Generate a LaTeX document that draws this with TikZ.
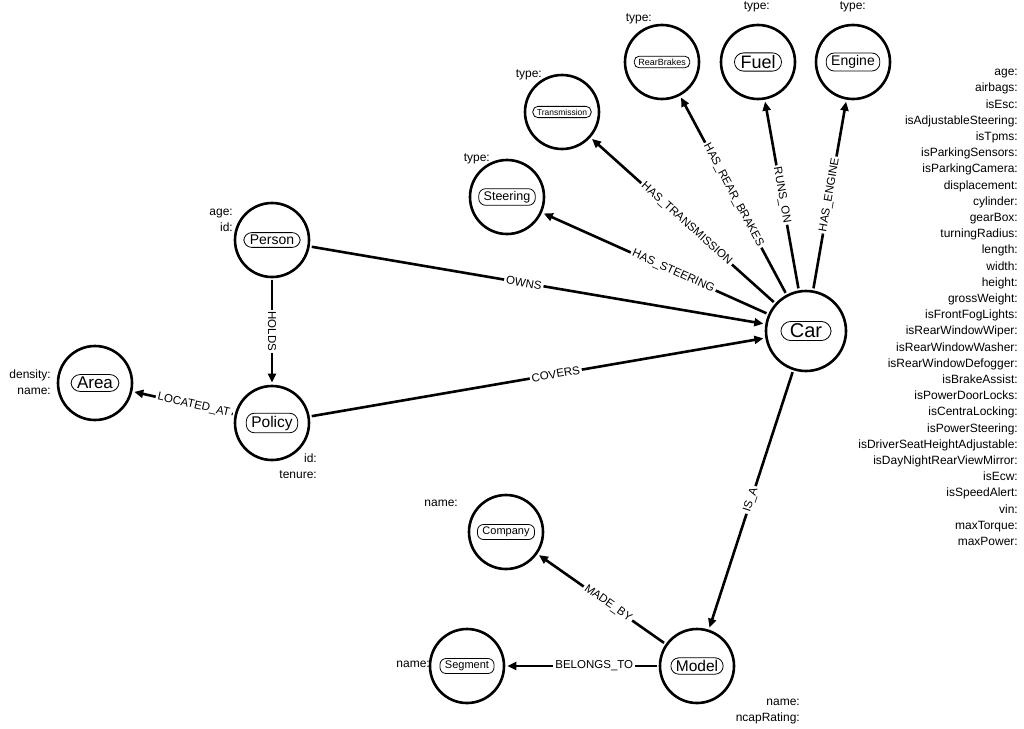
\documentclass[tikz,border=0pt]{standalone}
\usepackage{fontspec}
\setmainfont{Liberation Sans}
\usetikzlibrary{arrows.meta}
\begin{document}
\begin{tikzpicture}[x=1pt,y=-1pt,
  circ/.style={circle,draw,line width=2.6pt,minimum size=74pt,inner sep=0pt},
  bigcirc/.style={circ,minimum size=80pt},
  lab/.style={draw,rounded corners=5pt,line width=0.8pt,inner ysep=2.5pt,inner xsep=6pt},
  prop/.style={align=right,anchor=north east,font=\fontsize{12}{15.7}\selectfont,inner sep=0pt},
  rel/.style={line width=2.6pt,-{Triangle[length=9pt,width=8pt]},shorten >=2pt,shorten <=2pt},
  el/.style={sloped,fill=white,inner sep=2pt,font=\fontsize{11.5}{13}\selectfont}]
\useasboundingbox (0,0) rectangle (1024,728);
\node[bigcirc] (car) at (806,331) {};
\node[circ] (fuel) at (758,62) {};
\node[circ] (engine) at (853,62) {};
\node[circ] (rear) at (662,62) {};
\node[circ] (trans) at (562,112) {};
\node[circ] (steer) at (507,197) {};
\node[circ] (person) at (272,240) {};
\node[circ] (area) at (95,383) {};
\node[circ] (policy) at (272,423) {};
\node[circ] (company) at (506,532) {};
\node[circ] (model) at (697,666) {};
\node[circ] (segment) at (467,666) {};
\node[lab,font=\fontsize{20}{22}\selectfont,inner xsep=9pt,rounded corners=10pt] (carl) at (car) {Car};
\node[lab,font=\fontsize{18}{20}\selectfont,rounded corners=9pt] (fuell) at (fuel) {Fuel};
\node[lab,font=\fontsize{14}{16}\selectfont,rounded corners=8pt,inner xsep=5pt] (enginel) at (engine) {Engine};
\node[lab,font=\fontsize{9}{10}\selectfont,inner xsep=4pt] (rearl) at (rear) {RearBrakes};
\node[lab,font=\fontsize{8.5}{10}\selectfont,inner xsep=4pt] (transl) at (trans) {Transmission};
\node[lab,font=\fontsize{12.5}{14}\selectfont,rounded corners=7pt,inner xsep=5pt] (steerl) at (steer) {Steering};
\node[lab,font=\fontsize{14}{16}\selectfont,rounded corners=8pt] (personl) at (person) {Person};
\node[lab,font=\fontsize{17}{19}\selectfont,rounded corners=9pt] (areal) at (area) {Area};
\node[lab,font=\fontsize{15.5}{17}\selectfont,rounded corners=8pt,inner xsep=5pt] (policyl) at (policy) {Policy};
\node[lab,font=\fontsize{11}{12}\selectfont,rounded corners=6pt,inner xsep=5pt] (companyl) at (company) {Company};
\node[lab,font=\fontsize{11}{12}\selectfont,rounded corners=6pt,inner xsep=5pt] (segmentl) at (segment) {Segment};
\node[lab,font=\fontsize{15.5}{17}\selectfont,rounded corners=8pt,inner xsep=5pt] (modell) at (model) {Model};
% properties
\node[prop,font=\fontsize{12}{16.2}\selectfont] (pcar) at (1018,69) {age:\\airbags:\\isEsc:\\isAdjustableSteering:\\isTpms:\\isParkingSensors:\\isParkingCamera:\\displacement:\\cylinder:\\gearBox:\\turningRadius:\\length:\\width:\\height:\\grossWeight:\\isFrontFogLights:\\isRearWindowWiper:\\isRearWindowWasher:\\isRearWindowDefogger:\\isBrakeAssist:\\isPowerDoorLocks:\\isCentraLocking:\\isPowerSteering:\\isDriverSeatHeightAdjustable:\\isDayNightRearViewMirror:\\isEcw:\\isSpeedAlert:\\vin:\\maxTorque:\\maxPower:};
\node[prop] (pperson) at (233,209) {age:\\id:};
\node[prop] (parea) at (51,370) {density:\\name:};
\node[prop] (ppolicy) at (317,454) {id:\\tenure:};
\node[prop] (pcompany) at (458,500) {name:};
\node[prop] (psegment) at (430,661) {name:};
\node[prop] (pmodel) at (800,699) {name:\\ncapRating:};
\node[prop] (prear) at (652,14) {type:};
\node[prop] (pfuel) at (770,2) {type:};
\node[prop] (pengine) at (866,2) {type:};
\node[prop] (ptrans) at (542,70) {type:};
\node[prop] (psteer) at (490,154) {type:};
% relations
\draw[rel] (person) -- node[el,pos=0.47]{OWNS} (car);
\draw[rel] (policy) -- node[el,pos=0.54]{COVERS} (car);
\draw[rel] (person) -- node[el,pos=0.5]{HOLDS} (policy);
\draw[rel] (policy) -- node[el,pos=0.4]{LOCATED\_AT} (area);
\draw[rel] (car) -- node[el,pos=0.42]{HAS\_STEERING} (steer);
\draw[rel] (car) -- node[el,pos=0.48]{HAS\_TRANSMISSION} (trans);
\draw[rel] (car) -- node[el,pos=0.5]{HAS\_REAR\_BRAKES} (rear);
\draw[rel] (car) -- node[el,pos=0.5]{RUNS\_ON} (fuel);
\draw[rel] (car) -- node[el,pos=0.5]{HAS\_ENGINE} (engine);
\draw[rel] (car) -- node[el,pos=0.5]{IS\_A} (model);
\draw[rel] (model) -- node[el,pos=0.45]{MADE\_BY} (company);
\draw[rel] (model) -- node[el,pos=0.42]{BELONGS\_TO} (segment);
\end{tikzpicture}
\end{document}
